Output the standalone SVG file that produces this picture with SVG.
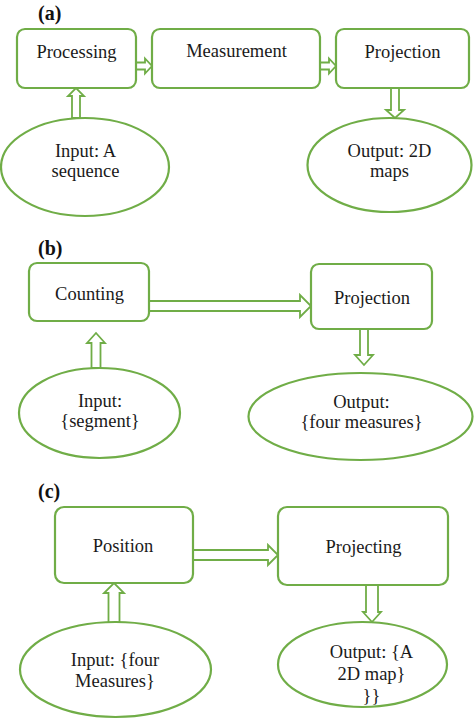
<svg xmlns="http://www.w3.org/2000/svg" width="474" height="719" viewBox="0 0 474 719">
<style>
.box{fill:#fff;stroke:#70AD47;stroke-width:2.2}
.ell{fill:#fff;stroke:#70AD47;stroke-width:2.2}
.arr{fill:#fff;stroke:#70AD47;stroke-width:1.8;stroke-linejoin:miter}
.t{font-family:'Liberation Serif','DejaVu Serif',serif;font-size:18.5px;fill:#1a1a1a;text-anchor:middle}
.lbl{font-family:'Liberation Serif','DejaVu Serif',serif;font-size:20px;font-weight:bold;fill:#111}
</style>
<rect width="474" height="719" fill="#fff"/>
<text class="lbl" x="38" y="20">(a)</text>
<text class="lbl" x="38" y="255">(b)</text>
<text class="lbl" x="38" y="498">(c)</text>
<g id="connectors">
<path class="arr" d="M136,62.5 H145 V58.5 L152,66 L145,73.5 V69.5 H136 Z"/>
<path class="arr" d="M320,62.5 H329 V58.5 L336,66 L329,73.5 V69.5 H320 Z"/>
<path class="arr" d="M72,118 V96 H68 L76,88 L84,96 H80 V118 Z"/>
<path class="arr" d="M391,88 V110 H386 L395,118 L404,110 H399 V88 Z"/>
<path class="arr" d="M149,301 H300 V295 L311,306 L300,317 V311 H149 Z"/>
<path class="arr" d="M91.5,368 V343 H87 L96,333 L105,343 H100.5 V368 Z"/>
<path class="arr" d="M360,329 V355 H355 L364,365 L373,355 H368 V329 Z"/>
<path class="arr" d="M193,550 H268 V545 L278,555 L268,565 V560 H193 Z"/>
<path class="arr" d="M108.5,623 V593 H104 L114,583 L124,593 H119.5 V623 Z"/>
<path class="arr" d="M366,585 V612 H363 L372,622 L381,612 H378 V585 Z"/>
</g>
<g id="a-processing"><rect class="box" x="17" y="29" width="119" height="59" rx="8"/><text class="t" x="76.5" y="58">Processing</text></g>
<g id="a-measurement"><rect class="box" x="152" y="29" width="168" height="59" rx="8"/><text class="t" x="236.5" y="57">Measurement</text></g>
<g id="a-projection"><rect class="box" x="336" y="29" width="133" height="59" rx="8"/><text class="t" x="402.5" y="58">Projection</text></g>
<g id="a-input"><ellipse class="ell" cx="85" cy="167" rx="84" ry="49"/><text class="t" x="85.5" y="157">Input: A</text><text class="t" x="85.5" y="177">sequence</text></g>
<g id="a-output"><ellipse class="ell" cx="389.5" cy="165" rx="82" ry="47"/><text class="t" x="389.5" y="157">Output: 2D</text><text class="t" x="389.5" y="177">maps</text></g>
<g id="b-counting"><rect class="box" x="29" y="263" width="120" height="58" rx="8"/><text class="t" x="89.5" y="300">Counting</text></g>
<g id="b-projection"><rect class="box" x="311" y="264" width="121" height="65" rx="8"/><text class="t" x="372" y="304">Projection</text></g>
<g id="b-input"><ellipse class="ell" cx="99.5" cy="413" rx="80.5" ry="45"/><text class="t" x="100" y="407">Input:</text><text class="t" x="100" y="427">{segment}</text></g>
<g id="b-output"><ellipse class="ell" cx="360.5" cy="416.5" rx="112" ry="43.5"/><text class="t" x="361.5" y="408">Output:</text><text class="t" x="361.5" y="428">{four measures}</text></g>
<g id="c-position"><rect class="box" x="55" y="507" width="138" height="76" rx="9"/><text class="t" x="123" y="552">Position</text></g>
<g id="c-projecting"><rect class="box" x="278" y="507" width="170" height="78" rx="9"/><text class="t" x="363.5" y="553">Projecting</text></g>
<g id="c-input"><ellipse class="ell" cx="115.5" cy="669.5" rx="95.5" ry="47.5"/><text class="t" x="115" y="666">Input: {four</text><text class="t" x="115" y="687">Measures}</text></g>
<g id="c-output"><ellipse class="ell" cx="362.5" cy="664.5" rx="84.5" ry="42.5"/><text class="t" x="371.5" y="658">Output: {A</text><text class="t" x="371.5" y="680">2D map}</text><text class="t" x="371.5" y="702">}}</text></g>
</svg>
